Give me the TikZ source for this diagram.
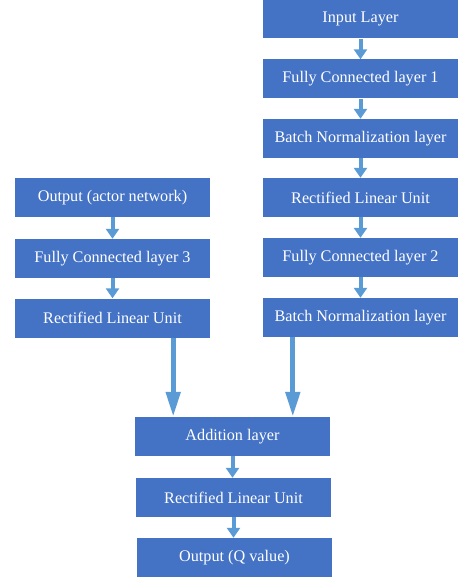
\documentclass[tikz,border=0pt]{standalone}
\usepackage{fontspec}
\setmainfont{Liberation Serif}
\usetikzlibrary{arrows.meta,calc}
\definecolor{boxblue}{HTML}{4472C4}
\definecolor{arrblue}{HTML}{5B9BD5}
\tikzset{
  layerbox/.style={rectangle, fill=boxblue, draw=none, minimum width=195pt, minimum height=39pt, inner sep=0pt, text=white, font=\fontsize{16.2}{18}\selectfont},
  smallarr/.style={draw=arrblue, line width=4pt, -{Triangle[width=13pt,length=10pt]}, shorten >=0pt},
  bigarr/.style={draw=arrblue, line width=5pt, -{Triangle[width=14pt,length=25pt]}},
}
\begin{document}
\begin{tikzpicture}[x=1pt,y=-1pt]
\useasboundingbox (0,0) rectangle (474,588);
% right column
\node[layerbox] (in)  at (360.5,19)  {Input Layer};
\node[layerbox] (fc1) at (360.5,79)  {Fully Connected layer 1};
\node[layerbox] (bn1) at (360.5,138.5) {Batch Normalization layer};
\node[layerbox] (re1) at (360.5,197.5) {Rectified Linear Unit};
\node[layerbox] (fc2) at (360.5,257.5) {Fully Connected layer 2};
\node[layerbox] (bn2) at (360.5,317.5) {Batch Normalization layer};
% left column
\node[layerbox] (out) at (112.5,197.5) {Output (actor network)};
\node[layerbox] (fc3) at (112.5,258.5) {Fully Connected layer 3};
\node[layerbox] (re3) at (112.5,318) {Rectified Linear Unit};
% bottom
\node[layerbox] (add) at (232.5,436.5) {Addition layer};
\node[layerbox] (re4) at (233.5,497.5) {Rectified Linear Unit};
\node[layerbox] (q)   at (234.5,557.5) {Output (Q value)};
% small arrows
\draw[smallarr] (in) -- (fc1);
\draw[smallarr] (fc1) -- (bn1);
\draw[smallarr] (bn1) -- (re1);
\draw[smallarr] (re1) -- (fc2);
\draw[smallarr] (fc2) -- (bn2);
\draw[smallarr] (out) -- (fc3);
\draw[smallarr] (fc3) -- (re3);
\draw[smallarr] (add.south) -- (add.south |- re4.north);
\draw[smallarr] (re4.south) -- (re4.south |- q.north);
% big arrows
\coordinate (l0) at ($(re3.south east)+(-37,0)$);
\coordinate (r0) at ($(bn2.south west)+(30,0)$);
\draw[bigarr] (l0) -- (l0 |- add.north);
\draw[bigarr] (r0) -- (r0 |- add.north);
\end{tikzpicture}
\end{document}
